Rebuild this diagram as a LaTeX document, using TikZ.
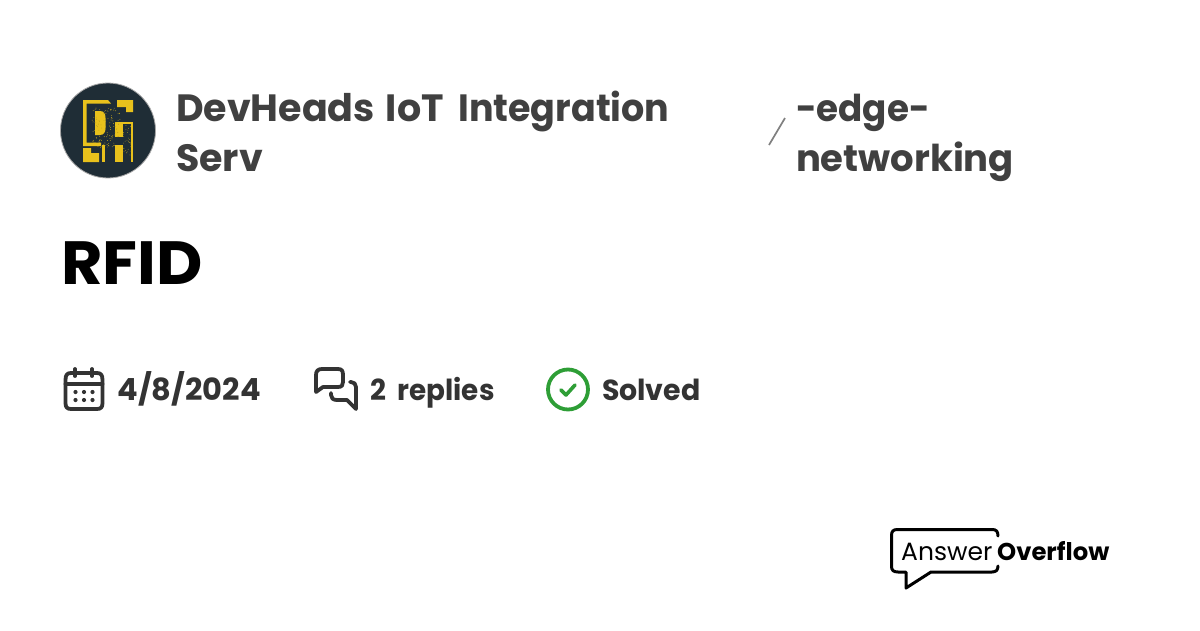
\documentclass[tikz,border=0pt]{standalone}
\usepackage{fontspec}
\setmainfont{Poppins}
\definecolor{txt}{HTML}{404040}
\definecolor{ink}{HTML}{333333}
\definecolor{okgreen}{HTML}{2E9E36}
\definecolor{logobg}{HTML}{1F2D36}
\definecolor{logoy}{HTML}{E8C11C}
\tikzset{
 lab/.style={anchor=base west,inner sep=0pt,outer sep=0pt,text=#1,font=\bfseries},
 icon/.style={draw=ink,line width=3.8pt,line cap=round,line join=round},
 ybox/.style={fill=logoy,draw=none}
}
\begin{document}
\begin{tikzpicture}[x=1pt,y=-1pt]
\useasboundingbox (0,0) rectangle (1200,630);
\fill[white] (0,0) rectangle (1200,630);
% avatar
\node[circle,fill=logobg,draw=black!35,line width=0.8pt,minimum size=95pt,inner sep=0pt] (avatar) at (108,130.5) {};
% logo: D
\fill[ybox] (83,100) -- (108,100) -- (111,103.5) -- (86.5,103.5) -- (86.5,142.5) -- (101,142.5) -- (101,146) -- (83,146) -- cycle;
\fill[ybox] (95,111) -- (100,111) .. controls (104,111) and (105.5,114) .. (105.5,118) -- (105.5,128) .. controls (105.5,132) and (104,135) .. (100,135) -- (95,135) -- cycle;
\fill[ybox] (102,145) rectangle (105,162);
\fill[ybox] (83,148) -- (91,148) -- (91,153) -- (99,153) -- (99,162) -- (83,162) -- cycle;
\fill[ybox] (117,100) -- (133,100) -- (133,112) -- (126,112) -- (126,107) -- (117,107) -- cycle;
% logo: H
\fill[ybox] (115,122) rectangle (133,124);
\fill[ybox] (115,122) rectangle (123,137);
\fill[ybox] (131,122) rectangle (133,162);
\fill[ybox] (115,145) rectangle (123,162);
% logo: speckle
\pgfmathsetseed{4242}
\foreach \n in {1,...,110} {
  \pgfmathsetmacro{\sx}{106+14*rand}
  \pgfmathsetmacro{\sy}{128+20*rand}
  \fill[logoy!80!logobg] (\sx,\sy) circle (0.45pt);
}
\foreach \n in {1,...,30} {
  \pgfmathsetmacro{\sx}{127+4*rand}
  \pgfmathsetmacro{\sy}{140+15*rand}
  \fill[logoy!80!logobg] (\sx,\sy) circle (0.4pt);
}
% header
\node[lab=txt,font=\fontsize{38}{38}\selectfont\bfseries] (t1) at (176,121) {DevHeads\hspace{3pt} IoT\hspace{6.5pt} \scalebox{0.96}[1]{Integration}};
\node[lab=txt,font=\fontsize{38}{38}\selectfont\bfseries] (t2) at (176,171) {Serv};
\coordinate (sa) at (785,118);
\coordinate (sb) at (769,145);
\draw[draw=black!50,line width=1.7pt] (sa) -- (sb);
\node[lab=txt,xscale=0.965,font=\fontsize{37}{37}\selectfont\bfseries] (t3) at (796,121) {-edge-};
\node[lab=txt,font=\fontsize{37}{37}\selectfont\bfseries] (t4) at (796,171) {networking};
\node[lab=black,xscale=1.045,font=\fontsize{61}{61}\selectfont\bfseries] (title) at (61,284) {RFID};
% calendar
\draw[icon] (65.5,380) .. controls (65.5,375) and (67,373) .. (71,373) -- (97,373) .. controls (101,373) and (102.5,375) .. (102.5,380) -- (102.5,403) .. controls (102.5,407) and (101,409) .. (97,409) -- (71,409) .. controls (67,409) and (65.5,407) .. (65.5,403) -- cycle;
\draw[icon] (65.5,384) -- (102.5,384);
\draw[icon] (75,369) -- (75,376);
\draw[icon] (92,369) -- (92,376);
\foreach \x in {75.5,84,92.5} \foreach \y in {392,400} \fill[ink] (\x,\y) circle (2.1pt);
\node[lab=ink,font=\fontsize{30.5}{30.5}\selectfont\bfseries] (date) at (117.5,400) {4/8/2024};
% chat
\draw[icon] (316,392) -- (316,375) .. controls (316,371) and (318,369) .. (322,369) -- (338,369) .. controls (342,369) and (343,371) .. (343,375) -- (343,382) .. controls (343,385) and (342,387) .. (338,387) -- (323,387) -- cycle;
\draw[icon] (350,382) -- (351,382) .. controls (354,382) and (356,384) .. (356,387) -- (356,409) -- (347,400) -- (337,400) .. controls (333,400) and (331,398) .. (331,395) -- (331,393);
\node[lab=ink,xscale=0.96,font=\fontsize{29}{29}\selectfont\bfseries] (rep) at (370,400) {2\hspace{6pt} replies};
% solved
\node[circle,draw=okgreen,line width=3.8pt,minimum size=40pt,inner sep=0pt] (ok) at (568,389.5) {};
\coordinate (c1) at (561,390);
\coordinate (c2) at (566,395);
\coordinate (c3) at (575,385);
\draw[okgreen,line width=3.6pt,line cap=round,line join=round] (c1) -- (c2) -- (c3);
\node[lab=ink,xscale=0.98,font=\fontsize{29}{29}\selectfont\bfseries] (sol) at (602,400) {Solved};
% AnswerOverflow
\draw[draw=black,line width=3pt,line join=round,line cap=round] (998,536) .. controls (998,531) and (996,529.5) .. (992,529.5) -- (898,529.5) .. controls (893,529.5) and (891.5,531) .. (891.5,536) -- (891.5,566) .. controls (891.5,570) and (893,572) .. (898,572) -- (906,572) -- (906,588) -- (931,572) -- (992,572) .. controls (996,572) and (998,570) .. (998,566);
\node[anchor=base west,inner sep=0pt,font=\fontsize{25}{25}\selectfont] (a1) at (901,560) {Answer};
\node[anchor=base west,inner sep=0pt,font=\fontsize{24.3}{24.3}\selectfont\bfseries] (a2) at (997,560) {Overflow};
\end{tikzpicture}
\end{document}
